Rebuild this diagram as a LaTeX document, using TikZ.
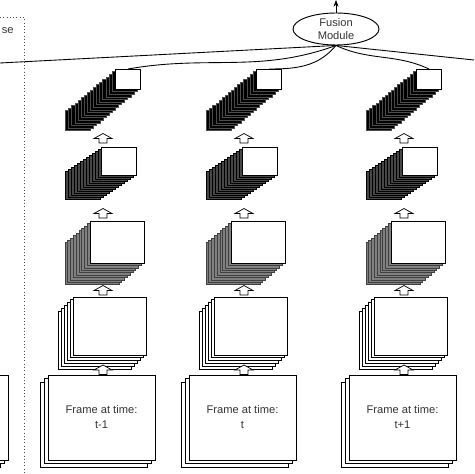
\documentclass[tikz,border=0pt]{standalone}
\usepackage{fontspec}
\setmainfont{Liberation Sans}
\usetikzlibrary{arrows.meta, shapes.geometric}
\tikzset{
  fusenode/.style={ellipse, draw, thick, fill=white, minimum width=2.58cm, minimum height=0.96cm,
    inner sep=0pt, align=center, font=\fontsize{9.5}{11.5}\selectfont, text=black!80},
  frametext/.style={align=center, font=\fontsize{9.5}{12}\selectfont, text=black!80},
  frontface/.style={draw, fill=white, line width=0.6pt},
  whitelayer/.style={draw, fill=white, line width=0.6pt},
  graylayer/.style={draw=black!75, fill=black!50, line width=0.3pt},
  darklayer/.style={draw=black, fill=black!72, line width=0.3pt},
  blacklayer/.style={draw=black!70, fill=black, line width=0.25pt},
  hollowup/.pic={
    \draw[fill=white, line width=0.6pt] (-4,-4.5) -- (4,-4.5) -- (4,0) -- (9,0)
      -- (0,5) -- (-9,0) -- (-4,0) -- cycle;
  },
  fuseline/.style={line width=0.75pt},
  sidebox/.style={dotted, line width=0.8pt, black!70},
}
% stack of feature maps: column shift, front lower-left x, y, width, height, layers behind, step x, step y, style
\newcommand{\layerstack}[9]{%
  \foreach \k in {#6,...,1}
    \draw[#9] ({#1+#2-\k*#7},{#3-\k*#8}) rectangle ++(#4,#5);
  \draw[frontface] ({#1+#2},#3) rectangle ++(#4,#5);
}

\begin{document}
\begin{tikzpicture}[x=0.03cm, y=0.03cm, >=Stealth]
  \useasboundingbox (0,0) rectangle (474,474);
  \clip (0,0) rectangle (474,474);

  % part of the previous block at the left
  \draw[sidebox] (0,457) -- (24,457) -- (24,0);
  \node[frametext, anchor=east, inner xsep=1pt] (sidelbl) at (15,443) {se};
  \layerstack{-147}{48}{14}{107}{85}{2}{4}{3.5}{whitelayer}

  % three time steps
  \foreach \ox/\lbl/\i in {0/t-1/a, 141/t/b, 301/t+1/c} {
    \layerstack{\ox}{48}{14}{107}{85}{2}{4}{3.5}{whitelayer}
    \node[frametext] (frame\i) at ({\ox+101.5},57) {Frame at time:\\ \lbl};
    \layerstack{\ox}{73}{119}{73}{58}{5}{3}{2.8}{whitelayer}
    \layerstack{\ox}{90}{211}{54}{42}{9}{2.8}{2.4}{graylayer}
    \layerstack{\ox}{101}{299}{35}{28}{12}{3}{2}{darklayer}
    \layerstack{\ox}{115}{385}{25}{20}{16}{3.1}{2.6}{blacklayer}
    \coordinate (top\i) at ({\ox+128},405);
    \pic (upa\i) at ({\ox+103},104) {hollowup};
    \pic (upb\i) at ({\ox+103},183.5) {hollowup};
    \pic (upc\i) at ({\ox+103},260.5) {hollowup};
    \pic (upd\i) at ({\ox+103},335.5) {hollowup};
  }

  % fusion
  \node[fusenode] (fuse) at (336,445) {Fusion\\Module};
  \coordinate (fuseout) at (336,474);
  \coordinate (westout) at (0,411);
  \coordinate (eastout) at (474,414);
  \draw[->, line width=0.6pt] (fuse.north) -- (fuseout);
  \draw[fuseline] (fuse.south) -- (westout);
  \draw[fuseline] (fuse.south) to[out=200, in=10] (topa);
  \draw[fuseline] (fuse.south) to[out=230, in=0] (topb);
  \draw[fuseline] (fuse.south) to[out=-25, in=155] (topc);
  \draw[fuseline] (fuse.south) -- (eastout);
\end{tikzpicture}
\end{document}
